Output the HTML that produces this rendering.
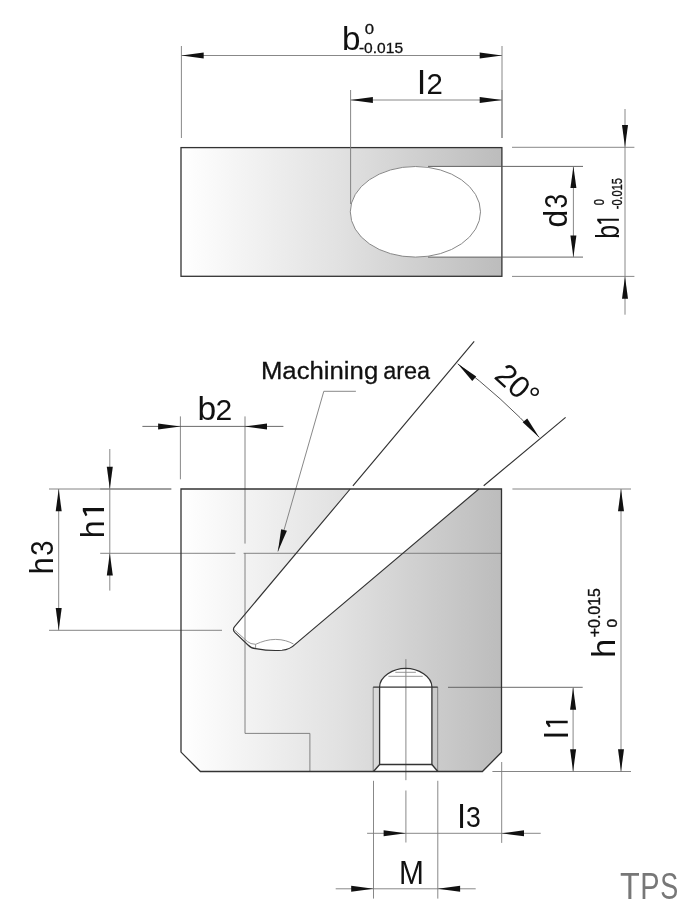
<!DOCTYPE html>
<html><head><meta charset="utf-8"><style>
html,body{margin:0;padding:0;background:#fff;}
svg{display:block;filter:grayscale(1);}
text{font-family:"Liberation Sans",sans-serif;fill:#111;}
</style></head><body>
<svg width="700" height="924" viewBox="0 0 700 924">
<defs>
<linearGradient id="g1" gradientUnits="userSpaceOnUse" x1="181" y1="0" x2="501.8" y2="0">
<stop offset="0" stop-color="#ffffff"/>
<stop offset="0.5" stop-color="#e1e1e3"/>
<stop offset="1" stop-color="#bbbcbe"/>
</linearGradient>
</defs>
<rect x="181" y="147.6" width="320.9" height="128.7" fill="url(#g1)"/>
<path d="M501.9 166.4 L415.4 166.4 A65.1 45.3 0 0 0 415.4 257.1 L501.9 257.1 Z" fill="#fff"/>
<ellipse cx="415.4" cy="211.8" rx="65.1" ry="45.3" fill="none" stroke="#888" stroke-width="1.0"/>
<rect x="181" y="147.6" width="320.9" height="128.7" fill="none" stroke="#333" stroke-width="1.3"/>
<g stroke="#7a7a7a" stroke-width="0.9" fill="none">
<g stroke="#555">
<line x1="428" y1="166.4" x2="583" y2="166.4"/>
<line x1="428" y1="257.1" x2="583" y2="257.1"/>
</g>
<line x1="181.4" y1="46" x2="181.4" y2="138"/>
<line x1="502" y1="46" x2="502" y2="138"/>
<line x1="181.4" y1="55.5" x2="502" y2="55.5"/>
<line x1="350.6" y1="90" x2="350.6" y2="204"/>
<line x1="350.6" y1="100" x2="502" y2="100"/>
<line x1="502" y1="90" x2="502" y2="138"/>
<line x1="573.4" y1="166.4" x2="573.4" y2="257.1"/>
<line x1="512" y1="147.3" x2="634.4" y2="147.3"/>
<line x1="512" y1="276.4" x2="634.4" y2="276.4"/>
<line x1="625" y1="109" x2="625" y2="314.7"/>
</g>
<g fill="#111">
<path d="M181.40 55.50 L203.70 58.50 L203.70 52.50 Z"/>
<path d="M502.00 55.50 L479.70 52.50 L479.70 58.50 Z"/>
<path d="M350.60 100.00 L372.90 103.00 L372.90 97.00 Z"/>
<path d="M502.00 100.00 L479.70 97.00 L479.70 103.00 Z"/>
<path d="M573.40 166.40 L570.40 188.00 L576.40 188.00 Z"/>
<path d="M573.40 257.10 L576.40 235.50 L570.40 235.50 Z"/>
<path d="M625.00 147.30 L628.00 125.00 L622.00 125.00 Z"/>
<path d="M625.00 276.40 L622.00 298.70 L628.00 298.70 Z"/>
</g>
<path d="M181 489.0 L501.5 489.0 L501.5 752.3 L482.4 771.5 L200.4 771.5 L181 752.1 Z" fill="url(#g1)"/>
<path d="M474.2 341.4 L352.9 485.8 L350.2 489 L234.6 626.6 Q232.2 629.6 234.8 632.3 L248 645 Q251 648.2 255.6 648.6 C262 649.8 274 650.9 282 650.3 C287 649.8 292 647.5 295.4 644.1 L478.9 489 L483.7 485.7 L565.6 417.4 Z" fill="#fff"/>
<rect x="373.2" y="687.1" width="64.5" height="84.4" fill="url(#g1)"/>
<path d="M379.6 687.1 C379.6 676.5 393 668.3 405.6 668.3 C418.5 668.3 431.9 676.5 431.9 687.1 L431.9 764.5 L437.8 771.5 L373.5 771.5 L379.6 764.5 Z" fill="#fff"/>
<g stroke="#777" stroke-width="0.9" fill="none">
<polyline points="245,416.4 245,543.6"/>
<polyline points="245,553 245,733.4 309.9,733.4 309.9,771.5"/>
<line x1="100.2" y1="553.3" x2="235.4" y2="553.3"/>
<line x1="243.6" y1="553.3" x2="501.5" y2="553.3"/>
<line x1="49" y1="630.3" x2="222" y2="630.3"/>
<line x1="49" y1="489" x2="171.3" y2="489"/>
<line x1="100.2" y1="489" x2="171.3" y2="489"/>
<line x1="512.4" y1="489" x2="631" y2="489"/>
<line x1="492.4" y1="771.5" x2="631" y2="771.5"/>
<g stroke="#5a5a5a">
<line x1="448" y1="687.3" x2="582.7" y2="687.3"/>
</g>
<line x1="373.2" y1="687.1" x2="373.2" y2="771.5"/>
<line x1="437.7" y1="687.1" x2="437.7" y2="771.5"/>
</g>
<g stroke="#7a7a7a" stroke-width="0.9" fill="none">
<line x1="180.4" y1="416.4" x2="180.4" y2="479.3"/>
<g stroke="#5a5a5a">
<line x1="142.4" y1="426.4" x2="283.4" y2="426.4"/>
</g>
<line x1="58.7" y1="489" x2="58.7" y2="630.3"/>
<line x1="109.8" y1="449" x2="109.8" y2="590.6"/>
<line x1="621" y1="489" x2="621" y2="771.5"/>
<line x1="573.1" y1="687.4" x2="573.1" y2="771.5"/>
<line x1="405.9" y1="659.1" x2="405.9" y2="780.2"/>
<line x1="405.9" y1="790.5" x2="405.9" y2="842.5"/>
<line x1="373.5" y1="780.8" x2="373.5" y2="898.6"/>
<line x1="437.8" y1="780.8" x2="437.8" y2="898.6"/>
<line x1="501.7" y1="762" x2="501.7" y2="842.9"/>
<line x1="367.1" y1="833.3" x2="540.7" y2="833.3"/>
<line x1="335.7" y1="888.8" x2="475.7" y2="888.8"/>
<polyline points="355.9,391.3 323.8,391.3 277.9,551.4"/>
<path d="M457.7 363.8 A632 632 0 0 1 539.3 437.4" stroke="#444"/>
</g>
<g stroke="#8a8a8a" stroke-width="0.9" fill="none">
<line x1="395.3" y1="672.3" x2="415.9" y2="672.3"/>
<line x1="388.4" y1="676.3" x2="422.7" y2="676.3"/>
<path d="M234.4 629.8 L247.5 641.6 Q250.5 644.2 255.6 644.3 L255.6 648.5 M255.6 644.3 C262 641.5 268 639.4 275.7 639.4 C283 639.4 289 641.5 293.5 644"/>
</g>
<g stroke="#333" stroke-width="1.3" fill="none">
<path d="M181 489.0 L501.5 489.0 L501.5 752.3 L482.4 771.5 L200.4 771.5 L181 752.1 Z"/>
<path d="M474.2 341.4 L352.9 485.8 M350.2 489 L234.6 626.6 Q232.2 629.6 234.8 632.3 L248 645 Q251 648.2 255.6 648.6 C262 649.8 274 650.9 282 650.3 C287 649.8 292 647.5 295.4 644.1 L478.9 489 M483.7 485.7 L565.6 417.4" stroke-width="1.15"/>
<path d="M379.6 687.1 C379.6 676.5 393 668.3 405.6 668.3 C418.5 668.3 431.9 676.5 431.9 687.1"/>
<line x1="373.2" y1="687.1" x2="437.7" y2="687.1"/>
<polyline points="379.6,687.1 379.6,764.5 431.9,764.5 431.9,687.1"/>
<line x1="379.6" y1="764.5" x2="373.5" y2="771.5"/>
<line x1="431.9" y1="764.5" x2="437.8" y2="771.5"/>
</g>
<g fill="#111">
<path d="M180.40 426.40 L158.10 423.40 L158.10 429.40 Z"/>
<path d="M244.70 426.40 L267.00 429.40 L267.00 423.40 Z"/>
<path d="M58.70 489.00 L55.70 511.30 L61.70 511.30 Z"/>
<path d="M58.70 630.30 L61.70 608.00 L55.70 608.00 Z"/>
<path d="M109.80 489.00 L112.80 466.70 L106.80 466.70 Z"/>
<path d="M109.80 553.30 L106.80 575.60 L112.80 575.60 Z"/>
<path d="M621.00 489.00 L618.00 511.30 L624.00 511.30 Z"/>
<path d="M621.00 771.50 L624.00 749.20 L618.00 749.20 Z"/>
<path d="M573.10 687.40 L570.10 709.70 L576.10 709.70 Z"/>
<path d="M573.10 771.50 L576.10 749.20 L570.10 749.20 Z"/>
<path d="M405.90 833.30 L383.60 830.30 L383.60 836.30 Z"/>
<path d="M501.70 833.30 L524.00 836.30 L524.00 830.30 Z"/>
<path d="M373.50 888.80 L351.20 885.80 L351.20 891.80 Z"/>
<path d="M437.80 888.80 L460.10 891.80 L460.10 885.80 Z"/>
<path d="M277.90 551.40 L286.93 530.79 L281.16 529.14 Z"/>
<path d="M457.70 363.80 L472.24 380.97 L476.26 376.52 Z"/>
<path d="M539.30 437.40 L527.26 418.39 L522.66 422.25 Z"/>
</g>
<text transform="matrix(0.33185,0,0,0.32653,341.94,49.57)" font-size="100">b</text>
<text transform="matrix(0.16736,0,0,0.14548,364.65,33.75)" font-size="100" stroke="#111" stroke-width="1.92">0</text>
<text transform="matrix(0.15569,0,0,0.15254,358.91,52.55)" font-size="100" stroke="#111" stroke-width="1.95">-0.015</text>
<text transform="matrix(0.36364,0,0,0.32966,417.56,93.90)" font-size="100">l</text>
<text transform="matrix(0.29386,0,0,0.29656,426.53,93.60)" font-size="100">2</text>
<text transform="matrix(0.25748,0,0,0.24759,260.89,379.15)" font-size="100" stroke="#111" stroke-width="1.19">Machining</text>
<text transform="matrix(0.23430,0,0,0.24453,383.22,379.16)" font-size="100" stroke="#111" stroke-width="1.25">area</text>
<text transform="matrix(0.33630,0,0,0.32653,197.41,419.97)" font-size="100">b</text>
<text transform="matrix(0.30044,0,0,0.29943,215.50,420.30)" font-size="100">2</text>
<text transform="matrix(0.34091,0,0,0.33103,457.82,827.60)" font-size="100">l</text>
<text transform="matrix(0.26582,0,0,0.29661,465.99,827.10)" font-size="100">3</text>
<text transform="matrix(0.29895,0,0,0.32849,398.95,883.70)" font-size="100">M</text>
<text transform="matrix(0.32332,0,0,0.36192,620.09,898.90)" font-size="100" style="fill:#777">T</text>
<text transform="matrix(0.28947,0,0,0.36192,640.23,898.90)" font-size="100" style="fill:#777">P</text>
<text transform="matrix(0.26957,0,0,0.36299,660.16,898.94)" font-size="100" style="fill:#777">S</text>
<text transform="matrix(0,-0.31778,0.33061,0,567.27,227.53)" font-size="100">d</text>
<text transform="matrix(0,-0.26160,0.30508,0,567.29,208.49)" font-size="100">3</text>
<text transform="matrix(0,-0.24944,0.32925,0,618.57,238.82)" font-size="100">b</text>
<text transform="matrix(0,-0.11088,0.14548,0,603.65,205.13)" font-size="100" stroke="#111" stroke-width="2.34">0</text>
<text transform="matrix(0,-0.10986,0.15113,0,621.95,209.28)" font-size="100" stroke="#111" stroke-width="2.30">-0.015</text>
<text transform="matrix(0,-0.30569,0.33103,0,53.10,574.31)" font-size="100">h</text>
<text transform="matrix(0,-0.27215,0.30508,0,53.09,555.73)" font-size="100">3</text>
<text transform="matrix(0,-0.31991,0.32690,0,104.00,538.31)" font-size="100">h</text>
<text transform="matrix(0,-0.33886,0.33241,0,615.10,657.74)" font-size="100">h</text>
<text transform="matrix(0,-0.15960,0.16243,0,599.64,637.28)" font-size="100" stroke="#111" stroke-width="2.17">+0.015</text>
<text transform="matrix(0,-0.15481,0.14972,0,616.65,627.50)" font-size="100" stroke="#111" stroke-width="2.30">0</text>
<text transform="matrix(0,-0.32955,0.33793,0,567.70,738.71)" font-size="100">l</text>
<path transform="matrix(0,-26.5000,33.3846,0,618.90,224.00)" d="M0.20 0 L0.12 0 L0.12 -0.555 L0.03 -0.51 L0.0 -0.565 L0.125 -0.65 L0.20 -0.65 Z" fill="#111"/>
<path transform="matrix(0,-41.5000,32.6154,0,104.00,516.20)" d="M0.20 0 L0.12 0 L0.12 -0.555 L0.03 -0.51 L0.0 -0.565 L0.125 -0.65 L0.20 -0.65 Z" fill="#111"/>
<path transform="matrix(0,-33.0000,33.3846,0,567.70,727.30)" d="M0.20 0 L0.12 0 L0.12 -0.555 L0.03 -0.51 L0.0 -0.565 L0.125 -0.65 L0.20 -0.65 Z" fill="#111"/>
<text transform="translate(493,377.5) rotate(42)" font-size="31">20°</text>
</svg>
</body></html>
